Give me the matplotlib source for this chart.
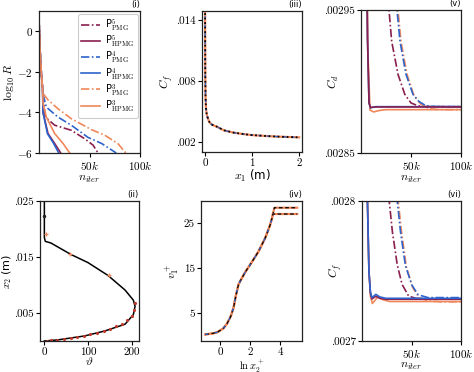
import matplotlib
matplotlib.use("Agg")
import matplotlib.pyplot as plt
import numpy as np

plt.rcParams['mathtext.fontset'] = 'cm'
plt.rcParams['font.family'] = ['DejaVu Sans']
plt.rcParams['axes.linewidth'] = 0.9

C5 = '#8a1f4f'
C4 = '#2e64cc'
C3 = '#f0875a'

# ---------- panel (i): residual history ----------
n_head = [0, 800, 1600, 2500, 3500]
r_head = [0.6, -0.6, -1.5, -2.2, -2.8]
n_p3_pmg = [4500, 8900, 18800, 32000, 52000, 65000, 78000, 86000]
r_p3_pmg = [-3.1, -3.38, -3.82, -4.31, -4.85, -5.12, -5.53, -6.0]
n_p4_pmg = [4500, 7300, 18800, 32000, 48500, 62000, 76500]
r_p4_pmg = [-3.2, -3.74, -4.23, -4.63, -5.23, -5.53, -6.0]
n_p5_pmg = [4300, 6300, 15500, 32000, 45000, 53500, 58400]
r_p5_pmg = [-3.4, -4.23, -4.63, -4.88, -5.29, -5.61, -6.0]
n_p3_hpmg = [4000, 7300, 15500, 23800, 30400]
r_p3_hpmg = [-3.57, -4.23, -5.04, -5.53, -6.0]
n_p5_hpmg = [4000, 8900, 15500, 21500]
r_p5_hpmg = [-4.0, -5.04, -5.53, -6.0]
n_p4_hpmg = [4000, 8300, 14500, 19500]
r_p4_hpmg = [-4.0, -5.04, -5.53, -6.0]

# ---------- panel (v): drag coefficient history ----------
n_cd_hp = [3000, 5500, 6500, 8000, 9500, 12000, 15000, 100000]
cd_p4_hp = [0.00310, 0.00300, 0.00293, 0.002885, 0.0028815, 0.002882, 0.0028824, 0.0028824]
cd_p5_hp = [0.00310, 0.00300, 0.00293, 0.002885, 0.0028818, 0.0028821, 0.0028822, 0.0028822]
n_cd_p3hp = [3000, 5500, 7000, 9000, 12700, 18000, 25000, 100000]
cd_p3_hp = [0.00310, 0.00300, 0.00292, 0.00288, 0.0028787, 0.0028797, 0.0028803, 0.0028803]
n_cd_p5 = [25000, 28000, 30700, 37000, 43800, 50000, 57000, 65000, 100000]
cd_p5_pmg = [0.00300, 0.00295, 0.002928, 0.002905, 0.002891, 0.002885, 0.002883, 0.0028825, 0.0028824]
n_cd_p4 = [33000, 36000, 39000, 45000, 52000, 58000, 65000, 75000, 100000]
cd_p4_pmg = [0.00300, 0.00295, 0.002928, 0.002905, 0.002891, 0.002886, 0.002883, 0.0028825, 0.0028824]
n_cd_p3 = [34000, 37000, 40000, 46000, 53000, 60000, 68000, 78000, 100000]
cd_p3_pmg = [0.00300, 0.00295, 0.002928, 0.002905, 0.00289, 0.002884, 0.002881, 0.0028803, 0.0028803]

# ---------- panel (vi): skin friction history ----------
n_cf_hp = [3000, 5500, 7000, 8500, 10000, 14000, 18000, 24000, 100000]
cf_p4_hp = [0.00290, 0.00280, 0.00275, 0.002735, 0.002731, 0.0027333, 0.0027315, 0.0027305, 0.0027305]
cf_p5_hp = [0.00290, 0.00280, 0.00275, 0.002734, 0.002730, 0.0027320, 0.0027305, 0.0027298, 0.0027298]
n_cf_p3hp = [3000, 5500, 7000, 8500, 10500, 16000, 21000, 28000, 100000]
cf_p3_hp = [0.00290, 0.00280, 0.00275, 0.002732, 0.0027268, 0.0027315, 0.0027295, 0.0027282, 0.0027282]
n_cf_p5 = [25000, 27500, 30700, 35600, 40500, 47000, 54000, 65000, 100000]
cf_p5_pmg = [0.00290, 0.00280, 0.002778, 0.0027544, 0.0027404, 0.0027322, 0.0027305, 0.00273, 0.00273]
n_cf_p4 = [33000, 35600, 38900, 43800, 50300, 56800, 66700, 80000, 100000]
cf_p4_pmg = [0.00290, 0.00280, 0.002778, 0.002754, 0.00274, 0.002733, 0.002731, 0.002731, 0.002731]
n_cf_p3 = [34000, 36600, 39900, 44800, 51300, 57800, 67700, 80000, 100000]
cf_p3_pmg = [0.00290, 0.00280, 0.002778, 0.002753, 0.002738, 0.002731, 0.0027285, 0.002728, 0.002728]

# ---------- panel (iii): Cf along the plate ----------
x1 = [0.0, 0.002, 0.005, 0.01, 0.02, 0.037, 0.07, 0.1, 0.15, 0.255, 0.4, 0.6, 0.8, 0.98, 1.3, 1.6, 2.0]
cf_x1 = [0.0160, 0.0120, 0.0085, 0.0065, 0.0053, 0.00466, 0.0042, 0.0039, 0.0037, 0.0035, 0.00315, 0.00293, 0.00279, 0.00269, 0.00259, 0.00252, 0.00246]

# ---------- panel (ii): profile ----------
theta = [0, 0, 2, 15, 61, 100, 146, 185, 204, 208, 204, 185, 139, 92, 31, 0]
x2 = [0.025, 0.0185, 0.0178, 0.0175, 0.01545, 0.0140, 0.0117, 0.0091, 0.0073, 0.0062, 0.0047, 0.0030, 0.0018, 0.0009, 0.0002, 0.0]
theta_ref_o = [3, 59, 148]
x2_ref_o = [0.0191, 0.0156, 0.0118]
theta_ref_k = [0]
x2_ref_k = [0.0224]
theta_ref_r = [208, 206, 200, 190, 178, 164, 150, 136, 120, 105, 90, 75, 60, 45, 30, 15, 5]
x2_ref_r = [0.0068, 0.0055, 0.0045, 0.0037, 0.0031, 0.0026, 0.0022, 0.0018, 0.0015, 0.0012, 0.0009, 0.0007, 0.0005, 0.0004, 0.0002, 0.0001, 0.00003]

# ---------- panel (iv): law of the wall ----------
lnx2p = [-1.0, -0.5, -0.2, 0.2, 0.44, 0.7, 0.89, 1.05, 1.22, 1.44, 1.7, 2.0, 2.55, 3.0, 3.33, 3.45]
v1p = [0.25, 0.5, 0.75, 1.6, 2.6, 4.3, 6.25, 9.0, 11.4, 12.8, 14.3, 15.8, 18.7, 21.7, 24.6, 26.0]
lnx2p_hi = [3.45, 3.62, 5.15]
v1p_hi = [26.0, 28.5, 28.5]
lnx2p_lo = [3.45, 3.52, 5.15]
v1p_lo = [26.0, 27.1, 27.1]

W, H = 474, 372
fig = plt.figure(figsize=(W / 100, H / 100), dpi=100)
TF = 'cmr10'
TS = 8


def add_ax(l, r, t, b):
    return fig.add_axes([l / W, 1 - b / H, (r - l) / W, (b - t) / H])


def style(ax, tag):
    ax.tick_params(direction='out', length=3, width=0.8, labelsize=TS, pad=1.5,
                   top=False, right=False)
    for s in ax.spines.values():
        s.set_color('#222222')
    ax.text(1.0, 1.015, tag, transform=ax.transAxes, ha='right', va='bottom', fontsize=6)


def ticks(ax, axis, vals, labels, math=False):
    kw = {} if math else {'fontfamily': TF}
    if axis == 'x':
        ax.set_xticks(vals)
        ax.set_xticklabels(labels, **kw)
    else:
        ax.set_yticks(vals)
        ax.set_yticklabels(labels, **kw)


lw = 1.2
dd = (0, (5, 1.5, 1, 1.5))
LS = 8.5
RR = 461           # right edge of right column
BT, BB = 201, 341  # bottom row top / bottom

# (i)
ax1 = add_ax(39, 140, 11, 153)
series = [
    (n_p5_pmg, r_p5_pmg, C5, dd, r'P$^5_{\mathrm{PMG}}$'),
    (n_p5_hpmg, r_p5_hpmg, C5, '-', r'P$^5_{\mathrm{HPMG}}$'),
    (n_p4_pmg, r_p4_pmg, C4, dd, r'P$^4_{\mathrm{PMG}}$'),
    (n_p4_hpmg, r_p4_hpmg, C4, '-', r'P$^4_{\mathrm{HPMG}}$'),
    (n_p3_pmg, r_p3_pmg, C3, dd, r'P$^3_{\mathrm{PMG}}$'),
    (n_p3_hpmg, r_p3_hpmg, C3, '-', r'P$^3_{\mathrm{HPMG}}$'),
]
for nx, ry, c, ls, lab in series:
    ax1.plot(n_head + nx, r_head + ry, color=c, ls=ls, lw=lw, label=lab)
ax1.set_xlim(0, 100000)
ax1.set_ylim(-6, 1.0)
ticks(ax1, 'x', [50000, 100000], [r'$50k$', r'$100k$'], math=True)
ticks(ax1, 'y', [-6, -4, -2, 0], [r'$-6$', r'$-4$', r'$-2$', r'$0$'], math=True)
ax1.set_xlabel(r'$n_{iter}$', fontsize=LS, labelpad=0)
ax1.set_ylabel(r'$\log_{10}R$', fontsize=LS, labelpad=0)
leg = ax1.legend(loc='upper right', fontsize=7, handlelength=1.9, labelspacing=0.05,
                 borderpad=0.35, handletextpad=0.6, framealpha=1, bbox_to_anchor=(1.0, 0.99),
                 borderaxespad=0.2)
leg.get_frame().set_edgecolor('#cccccc')
leg.get_frame().set_linewidth(0.8)
style(ax1, '(i)')

# (iii)
ax3 = add_ax(202, 302, 11, 152)
ax3.plot(x1, cf_x1, color=C3, lw=1.6)
ax3.plot(x1, cf_x1, color=C4, lw=1.0, ls=(0, (2, 4)))
ax3.plot(x1, cf_x1, color='black', lw=1.3, ls=(0, (1, 1.5)))
ax3.set_xlim(-0.065, 2.06)
ax3.set_ylim(0.00102, 0.01488)
ticks(ax3, 'x', [0, 1, 2], ['0', '1', '2'])
ticks(ax3, 'y', [0.002, 0.008, 0.014], ['.002', '.008', '.014'])
ax3.set_xlabel(r'$x_1$ (m)', fontsize=LS, labelpad=0)
ax3.set_ylabel(r'$C_f$', fontsize=LS, labelpad=1)
style(ax3, '(iii)')

# (v)
ax5 = add_ax(361, RR, 10, 153)
ax5.plot(n_cd_p5, cd_p5_pmg, color=C5, ls=dd, lw=lw)
ax5.plot(n_cd_p3, cd_p3_pmg, color=C3, ls=dd, lw=lw)
ax5.plot(n_cd_p4, cd_p4_pmg, color=C4, ls=dd, lw=lw)
ax5.plot(n_cd_p3hp, cd_p3_hp, color=C3, lw=lw)
ax5.plot(n_cd_hp, cd_p4_hp, color=C4, lw=lw)
ax5.plot(n_cd_hp, cd_p5_hp, color=C5, lw=lw)
ax5.set_xlim(0, 100000)
ax5.set_ylim(0.00285, 0.00295)
ticks(ax5, 'x', [50000, 100000], [r'$50k$', r'$100k$'], math=True)
ticks(ax5, 'y', [0.00285, 0.00295], ['.00285', '.00295'])
ax5.set_xlabel(r'$n_{iter}$', fontsize=LS, labelpad=0)
ax5.set_ylabel(r'$C_d$', fontsize=LS, labelpad=-12)
style(ax5, '(v)')

# (ii)
ax2 = add_ax(40, 139, BT, BB)
ax2.plot(theta, x2, color='black', lw=1.1)
ax2.plot(theta_ref_r, x2_ref_r, ls='none', marker='.', ms=2.5, color='#c0392b')
ax2.plot(theta_ref_o, x2_ref_o, ls='none', marker='+', ms=3.5, mew=0.9, color=C3)
ax2.plot(theta_ref_k, x2_ref_k, ls='none', marker='.', ms=3, color='#222222')
ax2.set_xlim(-10, 217)
ax2.set_ylim(0, 0.025)
ticks(ax2, 'x', [0, 100, 200], ['0', '100', '200'])
ticks(ax2, 'y', [0.005, 0.015, 0.025], ['.005', '.015', '.025'])
ax2.set_xlabel(r'$\vartheta$', fontsize=LS, labelpad=-1)
ax2.set_ylabel(r'$x_2$ (m)', fontsize=8, labelpad=0)
style(ax2, '(ii)')

# (iv)
ax4 = add_ax(201, 302, BT, BB)
for xs, ys in [(lnx2p + lnx2p_hi, v1p + v1p_hi), (lnx2p + lnx2p_lo, v1p + v1p_lo)]:
    ax4.plot(xs, ys, color=C3, lw=1.6)
    ax4.plot(xs, ys, color='black', lw=0.9, ls=(0, (3, 2)))
ax4.plot(lnx2p, v1p, color=C4, lw=1.0, ls=(0, (2, 5)))
ax4.set_xlim(-1.29, 5.47)
ax4.set_ylim(-1.2, 30)
ticks(ax4, 'x', [0, 2, 4], ['0', '2', '4'])
ticks(ax4, 'y', [5, 15, 25], ['5', '15', '25'])
ax4.set_xlabel(r'$\ln x_2^+$', fontsize=7.5, va='top')
ax4.xaxis.set_label_coords(0.5, -0.12)
ax4.set_ylabel(r'$v_1^+$', fontsize=LS, labelpad=1)
style(ax4, '(iv)')

# (vi)
ax6 = add_ax(362, RR, BT, BB)
ax6.plot(n_cf_p5, cf_p5_pmg, color=C5, ls=dd, lw=lw)
ax6.plot(n_cf_p3, cf_p3_pmg, color=C3, ls=dd, lw=lw)
ax6.plot(n_cf_p4, cf_p4_pmg, color=C4, ls=dd, lw=lw)
ax6.plot(n_cf_p3hp, cf_p3_hp, color=C3, lw=lw)
ax6.plot(n_cf_hp, cf_p5_hp, color=C5, lw=lw)
ax6.plot(n_cf_hp, cf_p4_hp, color=C4, lw=lw)
ax6.set_xlim(0, 100000)
ax6.set_ylim(0.0027, 0.0028)
ticks(ax6, 'x', [50000, 100000], [r'$50k$', r'$100k$'], math=True)
ticks(ax6, 'y', [0.0027, 0.0028], ['.0027', '.0028'])
ax6.set_xlabel(r'$n_{iter}$', fontsize=LS, labelpad=-1)
ax6.set_ylabel(r'$C_f$', fontsize=LS, labelpad=-10)
style(ax6, '(vi)')

fig.savefig('out.png', dpi=100)
